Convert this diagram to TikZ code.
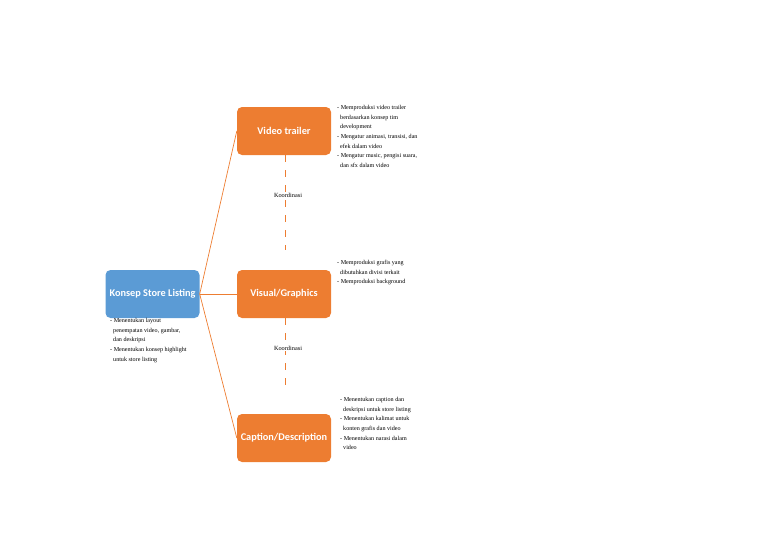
\documentclass[tikz,border=0pt]{standalone}
\usepackage{fontspec}
\setmainfont{Liberation Serif}
\newfontfamily\boxfont{Carlito}
\definecolor{orng}{HTML}{ED7D31}
\definecolor{blu}{HTML}{5B9BD5}
\begin{document}
\begin{tikzpicture}[x=1pt,y=-1pt,
  mainbox/.style={rounded corners=5pt, minimum width=94pt, minimum height=48pt, inner sep=0pt, text=white, font=\boxfont\bfseries\fontsize{10.3}{12}\selectfont},
  obox/.style={mainbox, fill=orng},
  bbox/.style={mainbox, fill=blu},
  conn/.style={draw=orng, line width=0.7pt},
  dconn/.style={draw=orng, line width=0.9pt, dash pattern=on 7pt off 8pt},
  note/.style={font=\fontsize{6.1}{9.7}\selectfont, align=left, anchor=north west, inner sep=0pt, text=black},
  lab/.style={font=\fontsize{6.3}{7}\selectfont, fill=white, inner sep=1pt}
]
\useasboundingbox (0,0) rectangle (768,543);
\node[bbox] (k) at (152.5,294) {Konsep Store Listing};
\node[obox] (v) at (284,131) {Video trailer};
\node[obox] (g) at (284,294) {Visual/Graphics};
\node[obox] (c) at (284,438) {Caption/Description};
\coordinate (d1) at (285,250);
\coordinate (d2) at (285,392);
\draw[conn] (k.east) -- (v.west);
\draw[conn] (k.east) -- (g.west);
\draw[conn] (k.east) -- (c.west);
\draw[dconn] (v.south -| d1) -- (d1);
\draw[dconn] (g.south -| d2) -- (d2);
\node[lab] (l1) at (288,195) {Koordinasi};
\node[lab] (l2) at (288,348) {Koordinasi};
\node[note] (nv) at (337,105) {- Memproduksi video trailer\\
\hspace*{3pt}berdasarkan konsep tim\\
\hspace*{3pt}development\\
- Mengatur animasi, transisi, dan\\
\hspace*{3pt}efek dalam video\\
- Mengatur music, pengisi suara,\\
\hspace*{3pt}dan sfx dalam video};
\node[note] (ng) at (337,260) {- Memproduksi grafis yang\\
\hspace*{3pt}dibutuhkan divisi terkait\\
- Memproduksi background};
\node[note] (nc) at (340,397) {- Menentukan caption dan\\
\hspace*{3pt}deskripsi untuk store listing\\
- Menentukan kalimat untuk\\
\hspace*{3pt}konten grafis dan video\\
- Menentukan narasi dalam\\
\hspace*{3pt}video};
\node[note] (nk) at (110,318) {- Menentukan layout\\
\hspace*{3pt}penempatan video, gambar,\\
\hspace*{3pt}dan deskripsi\\
- Menentukan konsep highlight\\
\hspace*{3pt}untuk store listing};
\end{tikzpicture}
\end{document}
